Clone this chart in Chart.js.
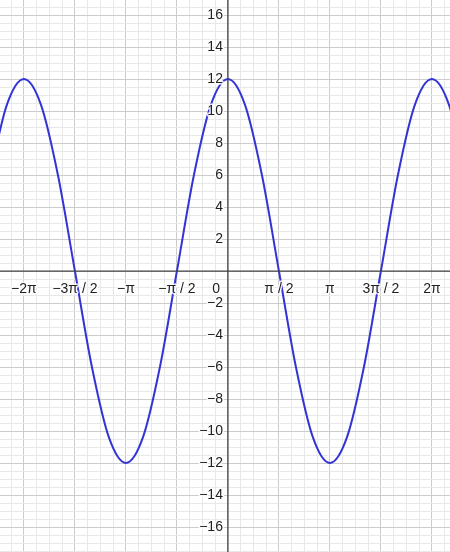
<!DOCTYPE html>
<html><head><meta charset="utf-8">
<script src="https://cdn.jsdelivr.net/npm/chart.js@4"></script>
<style>html,body{margin:0;background:#fff}#wrap{width:450px;height:552px}</style>
</head><body><div id="wrap"><canvas id="c"></canvas></div>
<script>
const PI = Math.PI;
// sample points, in multiples of pi/6
const sampleSteps = [-14,-13,-12,-11,-10,-9,-8,-7,-6,-5,-4,-3,-2,-1,0,1,2,3,4,5,6,7,8,9,10,11,12,13,14];
const sampleValues = [6,10.4,12,10.4,6,0,-6,-10.4,-12,-10.4,-6,0,6,10.4,12,10.4,6,0,-6,-10.4,-12,-10.4,-6,0,6,10.4,12,10.4,6];
const xTickLabels = {'-4':'−2π','-3':'−3π / 2','-2':'−π','-1':'−π / 2','1':'π / 2','2':'π','3':'3π / 2','4':'2π'};
const yTickLabels = [-16,-14,-12,-10,-8,-6,-4,-2,2,4,6,8,10,12,14,16];

const points = sampleSteps.map((s, i) => ({x: s * PI / 6, y: sampleValues[i]}));

const axesAndLabels = {
  id: 'axesAndLabels',
  afterDatasetsDraw(chart) {
    const {ctx, scales: {x, y}, chartArea: a} = chart;
    const x0 = x.getPixelForValue(0), y0 = y.getPixelForValue(0);
    ctx.save();
    ctx.strokeStyle = '#444'; ctx.lineWidth = 1.3;
    ctx.beginPath();
    ctx.moveTo(a.left, y0); ctx.lineTo(a.right, y0);
    ctx.moveTo(x0, a.top); ctx.lineTo(x0, a.bottom);
    ctx.stroke();
    ctx.font = '14px "Liberation Sans", sans-serif';
    ctx.fillStyle = '#222';
    ctx.lineWidth = 3; ctx.strokeStyle = 'rgba(255,255,255,0.85)'; ctx.lineJoin = 'round';
    const txt = (t, px, py) => { ctx.strokeText(t, px, py); ctx.fillText(t, px, py); };
    ctx.textAlign = 'center'; ctx.textBaseline = 'middle';
    for (const k in xTickLabels) txt(xTickLabels[k], x.getPixelForValue(k * PI / 2), y0 + 18);
    ctx.textAlign = 'right';
    txt('0', x0 - 8, y0 + 18);
    yTickLabels.forEach(v => txt(v < 0 ? '−' + (-v) : String(v), x0 - 5, y.getPixelForValue(v)));
    ctx.restore();
  }
};

new Chart(document.getElementById('c'), {
  type: 'line',
  data: { datasets: [{
    data: points, borderColor: '#3333d6', borderWidth: 2, pointRadius: 0,
    cubicInterpolationMode: 'monotone', fill: false
  }]},
  options: {
    responsive: true, maintainAspectRatio: false, animation: false,
    layout: { padding: 0 },
    plugins: { legend: { display: false }, tooltip: { enabled: false } },
    scales: {
      x: {
        type: 'linear', min: -7.02, max: 6.84,
        afterBuildTicks(s) { const t = []; for (let k = -18; k <= 18; k++) t.push({value: k * PI / 8}); s.ticks = t; },
        ticks: { display: false },
        grid: { drawTicks: false, color: c => (Math.round(c.tick.value / (PI / 8)) % 4 === 0) ? '#cccccc' : '#e8e8e8' },
        border: { display: false }
      },
      y: {
        min: -17.56, max: 16.94,
        afterBuildTicks(s) { const t = []; for (let v = -17.5; v <= 17; v += 0.5) t.push({value: v}); s.ticks = t; },
        ticks: { display: false },
        grid: { drawTicks: false, color: c => (Math.abs(c.tick.value % 2) < 1e-6) ? '#cccccc' : '#e8e8e8' },
        border: { display: false }
      }
    }
  },
  plugins: [axesAndLabels]
});
</script></body></html>
